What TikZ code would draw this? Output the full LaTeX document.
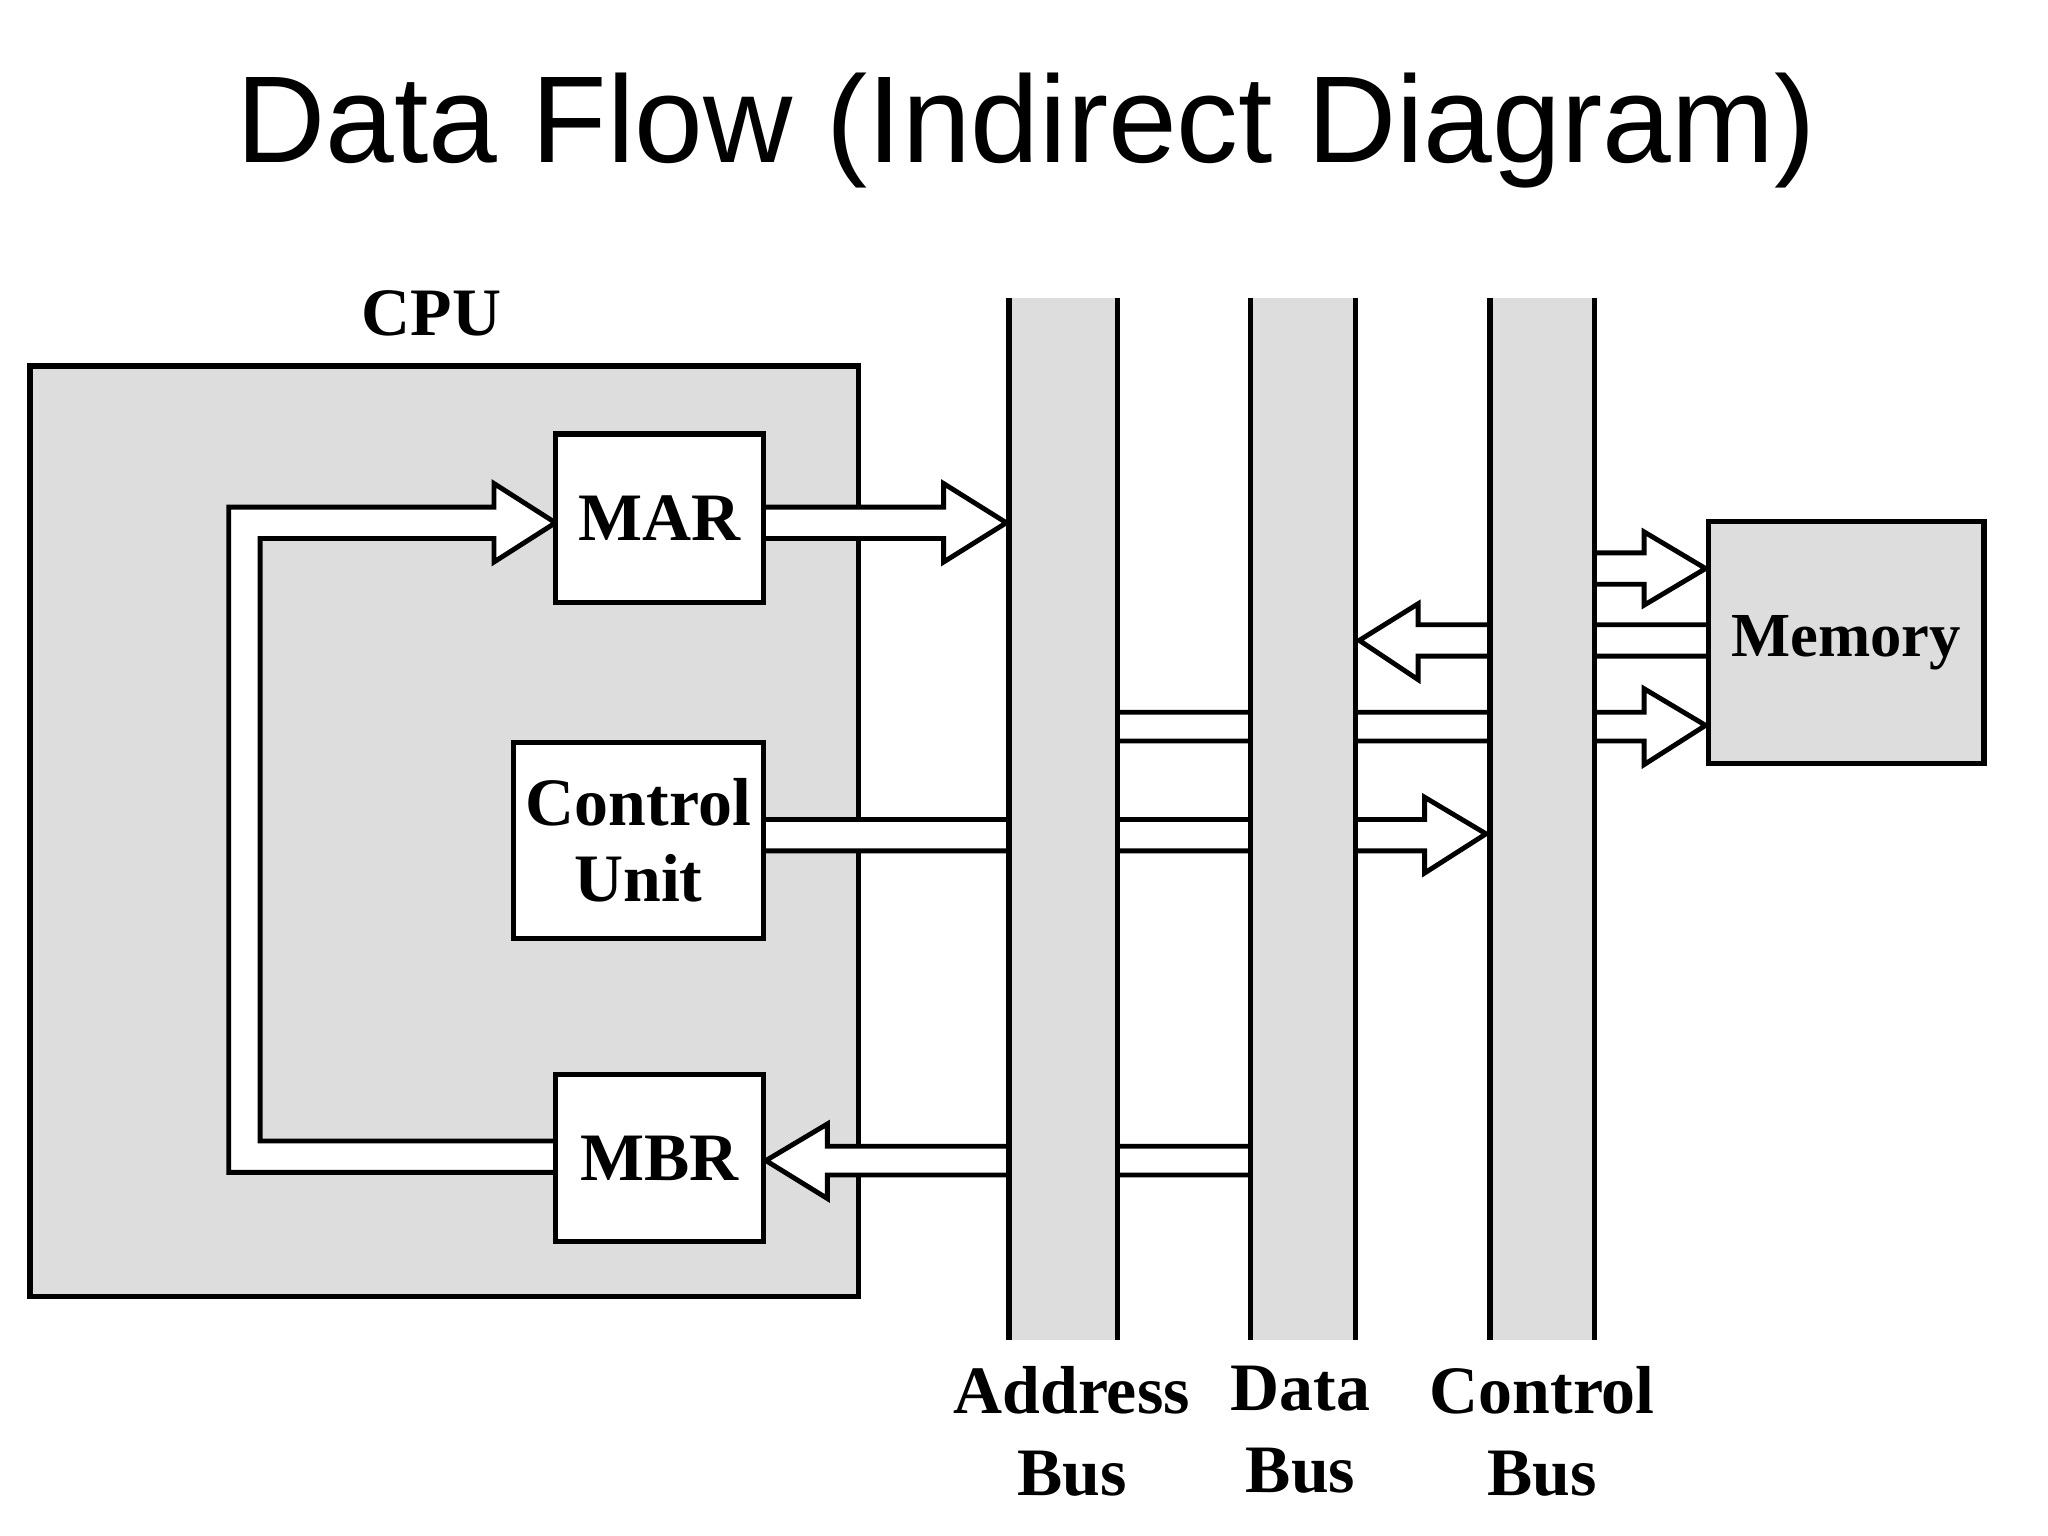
\documentclass[tikz,border=0pt]{standalone}
\usepackage{fontspec}
\setmainfont{Liberation Serif}
\newfontfamily\titlefont{Liberation Sans}
\begin{document}
\begin{tikzpicture}[x=0.0132cm,y=-0.0132cm,
  ln/.style={line width=1.5pt,line join=miter},
  box/.style={draw,line width=1.5pt,fill=white,inner sep=0pt,font=\fontsize{19.5}{22}\selectfont\bfseries,align=center},
  arr/.style={draw,line width=1.4pt,fill=white,line join=miter},
  bus/.style={fill=gray!27},
  lab/.style={font=\fontsize{19.5}{22}\selectfont\bfseries,align=center,inner sep=0pt}]
\useasboundingbox (0,0) rectangle (1567,1175);
\node[font=\titlefont\fontsize{35.5}{40}\selectfont] (title) at (785,100) {Data Flow (Indirect Diagram)};
\node[lab] (cpul) at (330,240) {CPU};
\draw[ln,fill=gray!27] (23,280) rectangle (657,992);
% arrows
\draw[arr] (425,897) -- (175,897) -- (175,388) -- (378,388) -- (378,370) -- (425,400) -- (378,430) -- (378,412) -- (199,412) -- (199,873) -- (425,873);
\draw[arr] (584,388) -- (722,388) -- (722,370) -- (770,400) -- (722,430) -- (722,412) -- (584,412);
\draw[arr] (584,627) -- (1090,627) -- (1090,610) -- (1137,638) -- (1090,668) -- (1090,651) -- (584,651);
\draw[arr] (957,877) -- (633,877) -- (633,860) -- (586,888) -- (633,917) -- (633,899) -- (957,899);
\draw[arr] (1222,423) -- (1258,423) -- (1258,407) -- (1305,435) -- (1258,463) -- (1258,447) -- (1222,447);
\draw[arr] (855,545) -- (1258,545) -- (1258,527) -- (1305,555) -- (1258,585) -- (1258,567) -- (855,567);
\draw[arr] (1307,478) -- (1085,478) -- (1085,462) -- (1040,490) -- (1085,520) -- (1085,502) -- (1307,502);
% buses
\foreach \a/\b/\n in {772/855/ab,957/1037/db,1140/1220/cb}{
  \fill[bus] (\a,228) rectangle (\b,1025);
  \draw[ln] (\a,228) -- (\a,1025);
  \draw[ln] (\b,228) -- (\b,1025);
}
% boxes
\node[box,minimum width=159*0.0132cm,minimum height=129*0.0132cm] (mar) at (504.5,396.5) {MAR};
\node[box,minimum width=191*0.0132cm,minimum height=150*0.0132cm] (cu) at (488.5,643) {Control\\Unit};
\node[box,minimum width=159*0.0132cm,minimum height=128*0.0132cm] (mbr) at (504.5,886) {MBR};
\node[box,fill=gray!27,minimum width=211*0.0132cm,minimum height=185*0.0132cm,font=\fontsize{18}{21}\selectfont\bfseries] (mem) at (1412.5,491.5) {Memory};
% bus labels
\node[lab,font=\fontsize{19.5}{23.5}\selectfont\bfseries,anchor=north] (abl) at (820,1045) {Address\\Bus};
\node[lab,font=\fontsize{19.5}{23.5}\selectfont\bfseries,anchor=north] (dbl) at (995,1045) {Data\\Bus};
\node[lab,font=\fontsize{19.5}{23.5}\selectfont\bfseries,anchor=north] (cbl) at (1180,1045) {Control\\Bus};
\end{tikzpicture}
\end{document}
